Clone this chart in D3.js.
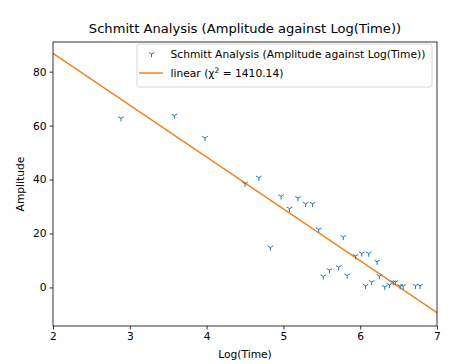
<!DOCTYPE html>
<html>
<head>
<meta charset="utf-8">
<script src="https://cdn.jsdelivr.net/npm/d3@7"></script>
<style>
  body { margin: 0; background: #fff; }
  svg { font-family: "DejaVu Sans", sans-serif; }
</style>
</head>
<body>
<div id="chart"></div>
<script>
// data
const logTime = [2.885, 3.58, 3.98, 4.50, 4.68, 4.83, 4.97, 5.08, 5.19, 5.29, 5.38, 5.46,
  5.52, 5.60, 5.72, 5.78, 5.83, 5.94, 6.02, 6.07, 6.11, 6.15, 6.22, 6.25, 6.32, 6.38,
  6.43, 6.46, 6.52, 6.56, 6.72, 6.78];
const amplitude = [62.7, 63.7, 55.4, 38.5, 40.7, 14.8, 33.8, 29.2, 33.1, 31.0, 31.0, 21.5,
  4.1, 6.4, 7.5, 18.7, 4.4, 11.6, 12.6, 0.6, 12.6, 2.0, 9.5, 4.2, 0.2, 0.9,
  1.9, 2.0, 0.5, 0.5, 0.6, 0.6];
const fitSlope = -19.24;
const fitIntercept = 125.3;
const xTicks = [2, 3, 4, 5, 6, 7];
const yTicks = [0, 20, 40, 60, 80];

const W = 474, H = 364;
const m = { left: 53, right: 37, top: 42, bottom: 38 };
const fs = 10.7;

const svg = d3.select("#chart").append("svg")
  .attr("width", W).attr("height", H);

const x = d3.scaleLinear().domain([2, 7]).range([m.left, W - m.right]);
const y = d3.scaleLinear().domain([-14.3, 91]).range([H - m.bottom, m.top]);

const plot = svg.append("g");

// clip the fit line to the axes box
svg.append("clipPath").attr("id", "clip")
  .append("rect")
  .attr("x", m.left).attr("y", m.top)
  .attr("width", W - m.left - m.right).attr("height", H - m.top - m.bottom);

const lineX = [2, 7];
plot.append("path")
  .attr("clip-path", "url(#clip)")
  .attr("d", d3.line().x(d => x(d)).y(d => y(fitIntercept + fitSlope * d))(lineX))
  .attr("fill", "none")
  .attr("stroke", "#f5801a")
  .attr("stroke-width", 1.5);

// tri_down markers
const tri = (r) => `M0,0L0,${r}M0,0L${-r * 0.866},${-r * 0.5}M0,0L${r * 0.866},${-r * 0.5}`;
plot.append("g")
  .selectAll("path")
  .data(d3.zip(logTime, amplitude))
  .join("path")
  .attr("transform", d => `translate(${x(d[0])},${y(d[1])})`)
  .attr("d", tri(3.2))
  .attr("fill", "none")
  .attr("stroke", "#1f77b4")
  .attr("stroke-width", 1);

// axes
const xAxis = svg.append("g")
  .attr("transform", `translate(0,${H - m.bottom})`)
  .call(d3.axisBottom(x).tickValues(xTicks).tickSize(3.5).tickPadding(3).tickFormat(d3.format("d")));
const yAxis = svg.append("g")
  .attr("transform", `translate(${m.left},0)`)
  .call(d3.axisLeft(y).tickValues(yTicks).tickSize(3.5).tickPadding(3).tickFormat(d3.format("d")));
[xAxis, yAxis].forEach(a => {
  a.select(".domain").remove();
  a.selectAll("text").attr("font-size", fs).attr("fill", "#000").attr("font-family", "DejaVu Sans");
  a.selectAll("line").attr("stroke", "#000").attr("stroke-width", 0.8);
});

svg.append("rect")
  .attr("x", m.left).attr("y", m.top)
  .attr("width", W - m.left - m.right).attr("height", H - m.top - m.bottom)
  .attr("fill", "none").attr("stroke", "#000").attr("stroke-width", 0.8);

// labels
svg.append("text")
  .attr("x", (m.left + W - m.right) / 2).attr("y", 33)
  .attr("text-anchor", "middle").attr("font-size", 13.1)
  .text("Schmitt Analysis (Amplitude against Log(Time))");
svg.append("text")
  .attr("x", (m.left + W - m.right) / 2).attr("y", 358)
  .attr("text-anchor", "middle").attr("font-size", fs)
  .text("Log(Time)");
svg.append("text")
  .attr("transform", `translate(24,${(m.top + H - m.bottom) / 2}) rotate(-90)`)
  .attr("text-anchor", "middle").attr("font-size", fs)
  .text("Amplitude");

// legend
const lg = svg.append("g");
lg.append("rect")
  .attr("x", 137).attr("y", 44).attr("width", 295).attr("height", 43).attr("rx", 2)
  .attr("fill", "#fff").attr("fill-opacity", 0.8)
  .attr("stroke", "#ccc").attr("stroke-width", 0.8);
lg.append("path")
  .attr("transform", "translate(151.5,54)")
  .attr("d", tri(3.2)).attr("fill", "none")
  .attr("stroke", "#1f77b4").attr("stroke-width", 1);
lg.append("text").attr("x", 170.5).attr("y", 58).attr("font-size", fs)
  .text("Schmitt Analysis (Amplitude against Log(Time))");
lg.append("line")
  .attr("x1", 139).attr("x2", 163).attr("y1", 73).attr("y2", 73)
  .attr("stroke", "#f5801a").attr("stroke-width", 1.5);
const t2 = lg.append("text").attr("x", 170.5).attr("y", 77).attr("font-size", fs);
t2.append("tspan").text("linear (\u03c7");
t2.append("tspan").attr("font-size", 7.5).attr("dy", -4).text("2");
t2.append("tspan").attr("dy", 4).text(" = 1410.14)");
</script>
</body>
</html>
